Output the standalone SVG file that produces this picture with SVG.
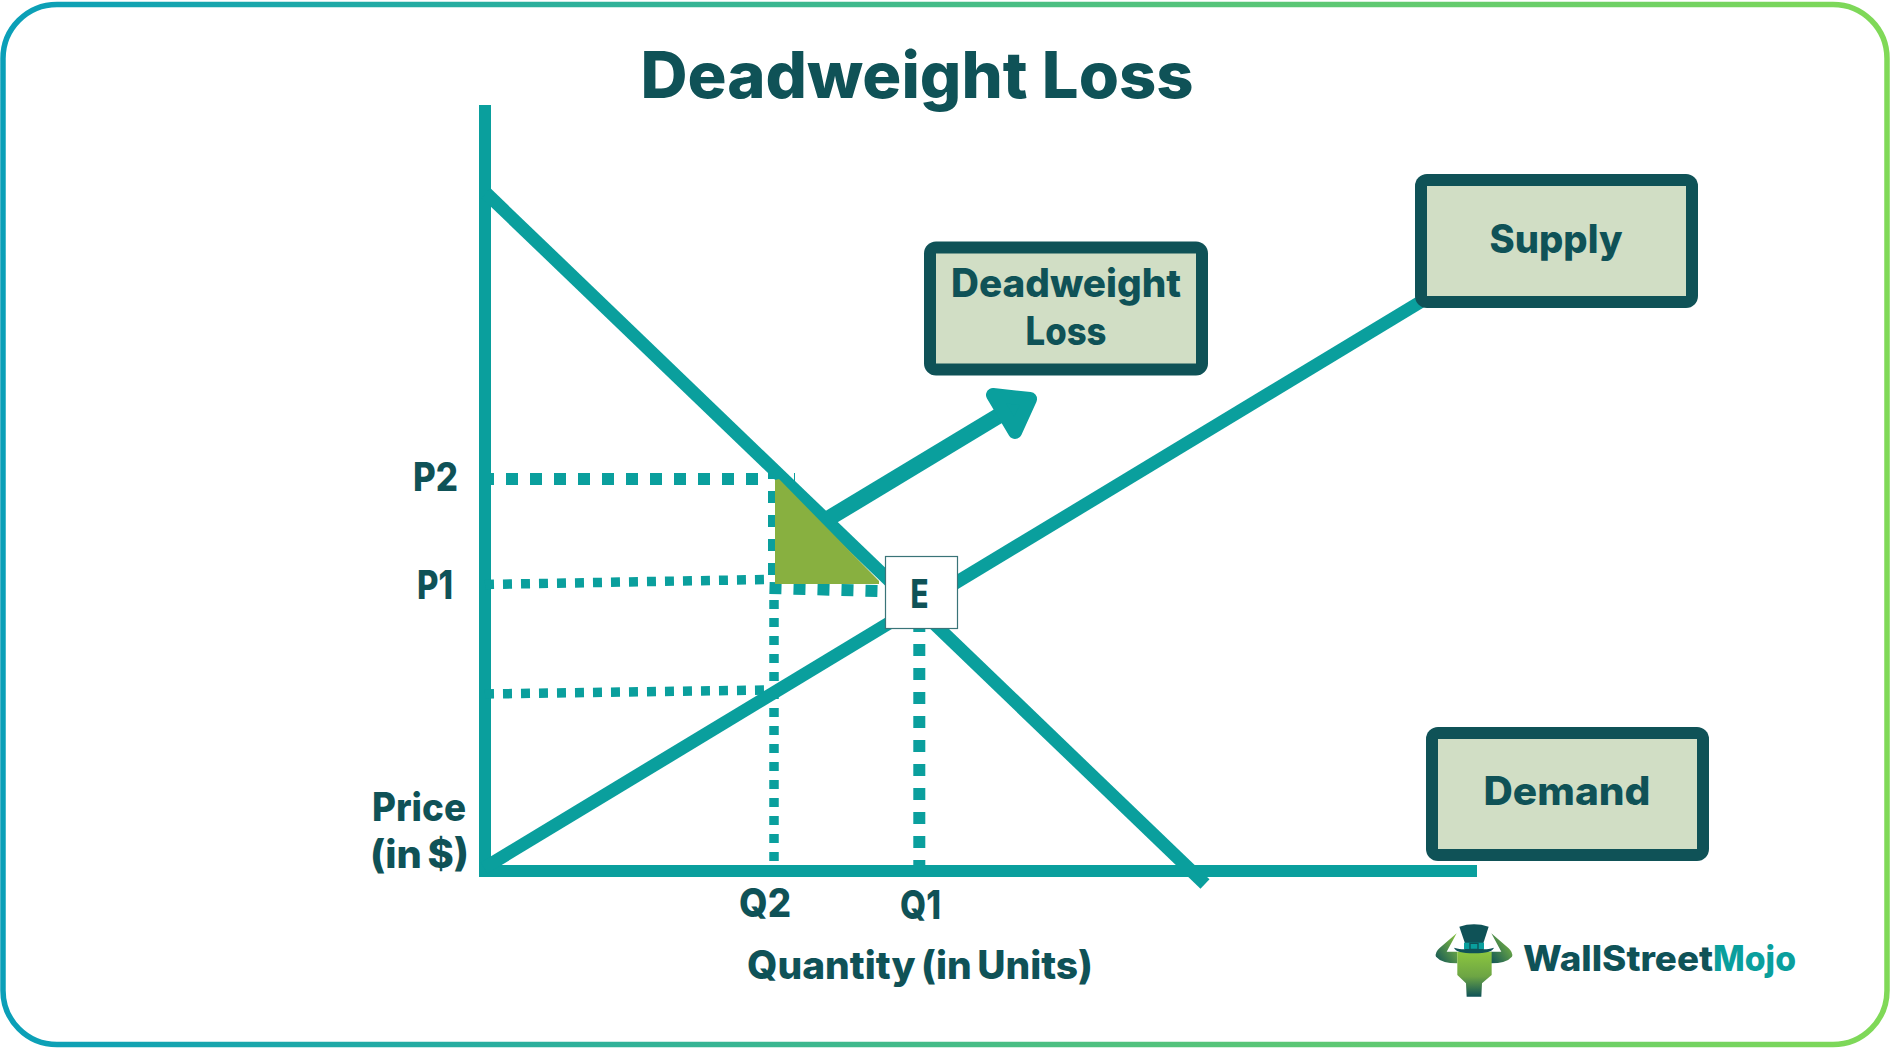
<svg xmlns="http://www.w3.org/2000/svg" width="1890" height="1050" viewBox="0 0 1890 1050">
<style>
.t{font-family:Inter,"Noto Sans","Liberation Sans",sans-serif;font-weight:800;fill:#0f5257}
.m{text-anchor:middle}
.f38{font-size:39px}
.ax{stroke:#0a9f9d;stroke-width:12;fill:none}
.ln{stroke:#0a9f9d;stroke-width:13;fill:none}
.d12{stroke:#0a9f9d;stroke-width:12;fill:none;stroke-dasharray:12 12}
.d9{stroke:#0a9f9d;stroke-width:9.5;fill:none;stroke-dasharray:9 9}
.bo{fill:#0f5257}
.bi{fill:#d1dec5}
.ws{word-spacing:-3px}
</style>
<defs>
<linearGradient id="fr" gradientUnits="userSpaceOnUse" x1="0" y1="0" x2="1890" y2="0">
<stop offset="0" stop-color="#0a9fb8"/><stop offset="1" stop-color="#80d957"/>
</linearGradient>
<linearGradient id="face" x1="0" y1="0" x2="0" y2="1">
<stop offset="0" stop-color="#8cc63f"/><stop offset="0.55" stop-color="#6da544"/><stop offset="1" stop-color="#0f5257"/>
</linearGradient>
<linearGradient id="horn" x1="1" y1="0" x2="0" y2="1">
<stop offset="0" stop-color="#8cc63f"/><stop offset="1" stop-color="#0f5257"/>
</linearGradient>
</defs>
<rect width="1890" height="1050" fill="#fff"/>
<rect id="frame" x="3" y="4.500" width="1884" height="1040" rx="54" fill="none" stroke="url(#fr)" stroke-width="5.500"/>
<g id="title"><text class="t m" x="917" y="98" font-size="64" textLength="553" lengthAdjust="spacingAndGlyphs">Deadweight Loss</text></g>
<g id="connectors">
<path class="ax" d="M485 105V877"/>
<path class="ax" d="M479 871H1477"/>
<path class="d12" d="M482 479H768"/>
<path class="d12" d="M774 467V587"/>
<path class="d9" d="M774 600V866"/>
<path class="d9" d="M485 584.500L765 579.500"/>
<path class="d9" d="M485 694L765 690"/>
<path class="d12" d="M769.500 588L879 591"/>
<path class="d12" d="M919.300 620V866"/>
<path id="demand" class="ln" d="M486 193L1205 884"/>
<path id="supply" class="ln" d="M484 868L1422 301"/>
<path stroke="#0a9f9d" stroke-width="1" d="M794.500 473V488"/>
<path id="arrow" stroke="#0a9f9d" stroke-width="16" fill="none" d="M826 520L1000 415"/>
<polygon points="993,395 1030,399 1015,432" fill="#0a9f9d" stroke="#0a9f9d" stroke-width="14" stroke-linejoin="round"/>
</g>
<polygon id="triangle" points="775,480 779,479 879,581 879,584 775,584" fill="#88b040"/>
<g id="node-e">
<rect x="885.500" y="556.500" width="72" height="72" fill="#fff" stroke="#3a7478" stroke-width="1.200"/>
<text class="t m" x="919.500" y="608" font-size="39" textLength="18" lengthAdjust="spacingAndGlyphs">E</text>
</g>
<g id="node-deadweight">
<rect class="bo" x="924" y="241.500" width="284" height="134" rx="12"/>
<rect class="bi" x="936" y="253.500" width="260" height="110"/>
<text class="t m f38" x="1066" y="297" textLength="230" lengthAdjust="spacingAndGlyphs">Deadweight</text>
<text class="t m f38" x="1066" y="345" textLength="81" lengthAdjust="spacingAndGlyphs">Loss</text>
</g>
<g id="node-supply">
<rect class="bo" x="1415" y="174" width="283" height="134" rx="12"/>
<rect class="bi" x="1427" y="186" width="259" height="110"/>
<text class="t m f38" x="1556" y="253" textLength="133" lengthAdjust="spacingAndGlyphs">Supply</text>
</g>
<g id="node-demand">
<rect class="bo" x="1426" y="727" width="283" height="134" rx="12"/>
<rect class="bi" x="1438" y="739" width="259" height="110"/>
<text class="t m f38" x="1567" y="805" textLength="167" lengthAdjust="spacingAndGlyphs">Demand</text>
</g>
<g id="labels">
<text class="t m f38" x="435.500" y="491" textLength="45" lengthAdjust="spacingAndGlyphs">P2</text>
<text class="t m f38" x="435" y="599" textLength="36" lengthAdjust="spacingAndGlyphs">P1</text>
<text class="t m f38" x="419" y="821" textLength="94" lengthAdjust="spacingAndGlyphs">Price</text>
<text class="t m f38 ws" x="419.500" y="868" textLength="99" lengthAdjust="spacingAndGlyphs">(in $)</text>
<text class="t m f38" x="765" y="917" textLength="52" lengthAdjust="spacingAndGlyphs">Q2</text>
<text class="t m f38" x="920.500" y="919" textLength="41" lengthAdjust="spacingAndGlyphs">Q1</text>
<text class="t m f38 ws" x="920" y="979" textLength="346" lengthAdjust="spacingAndGlyphs">Quantity (in Units)</text>
</g>
<g id="logo">
<g transform="translate(1400 900) scale(.3333)">
<path d="M170 100L118 145Q104 158 108 170Q125 190 172 190V155H140Z" fill="url(#horn)"/>
<path d="M274 100L326 145Q340 158 336 170Q319 190 272 190V155H304Z" fill="url(#horn)"/>
<path d="M172 155H275V225L246 250L244 290H200L198 250L172 225Z" fill="url(#face)"/>
<path d="M178 80Q222 66 266 80L250 130H195Z" fill="#0f5257"/>
<path d="M192 128H252V148H192Z" fill="#0a9f9d"/>
<path d="M162 143Q190 150 195 147H250Q255 150 282 143Q276 160 222 160Q168 160 162 143Z" fill="#0f5257"/>
<path d="M210 130H234V148H210Z" fill="none" stroke="#0f5257" stroke-width="4"/>
</g>
<text class="t" x="1523" y="971" font-size="35" textLength="190" lengthAdjust="spacingAndGlyphs">WallStreet</text>
<text class="t" x="1713" y="971" font-size="35" textLength="83" lengthAdjust="spacingAndGlyphs" style="fill:#0a9f9d">Mojo</text>
</g>
</svg>
